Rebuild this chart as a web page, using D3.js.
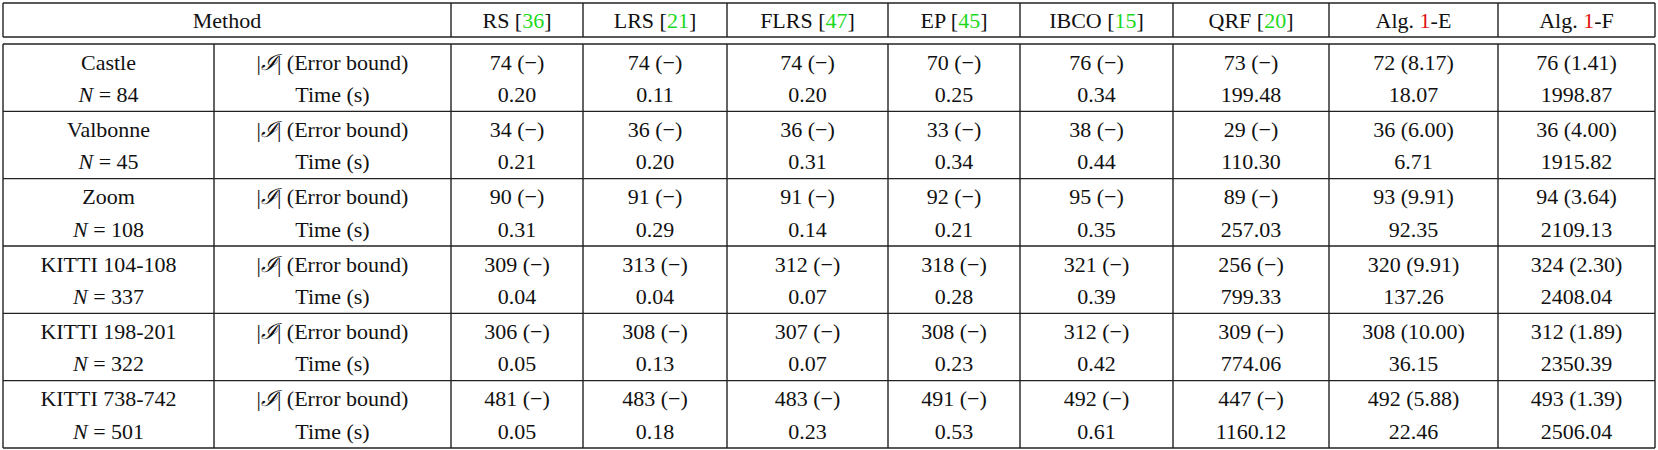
<!DOCTYPE html>
<html><head><meta charset="utf-8">
<script src="https://cdn.jsdelivr.net/npm/d3@7"></script>
<style>body{margin:0;background:#fff}svg{display:block}text{font-family:"Liberation Serif","DejaVu Serif",serif;font-size:22px;fill:#111}</style>
</head><body><svg width="1658" height="450"></svg>
<script>
// данные таблицы
const methods = [["RS", "36"], ["LRS", "21"], ["FLRS", "47"], ["EP", "45"], ["IBCO", "15"], ["QRF", "20"]];
const algs = ["Alg. 1-E", "Alg. 1-F"];
const datasets = ["Castle", "Valbonne", "Zoom", "KITTI 104-108", "KITTI 198-201", "KITTI 738-742"];
const sizes = [84, 45, 108, 337, 322, 501];
const counts = [
  ["74 (−)", "74 (−)", "74 (−)", "70 (−)", "76 (−)", "73 (−)", "72 (8.17)", "76 (1.41)"],
  ["34 (−)", "36 (−)", "36 (−)", "33 (−)", "38 (−)", "29 (−)", "36 (6.00)", "36 (4.00)"],
  ["90 (−)", "91 (−)", "91 (−)", "92 (−)", "95 (−)", "89 (−)", "93 (9.91)", "94 (3.64)"],
  ["309 (−)", "313 (−)", "312 (−)", "318 (−)", "321 (−)", "256 (−)", "320 (9.91)", "324 (2.30)"],
  ["306 (−)", "308 (−)", "307 (−)", "308 (−)", "312 (−)", "309 (−)", "308 (10.00)", "312 (1.89)"],
  ["481 (−)", "483 (−)", "483 (−)", "491 (−)", "492 (−)", "447 (−)", "492 (5.88)", "493 (1.39)"]
];
const times = [
  ["0.20", "0.11", "0.20", "0.25", "0.34", "199.48", "18.07", "1998.87"],
  ["0.21", "0.20", "0.31", "0.34", "0.44", "110.30", "6.71", "1915.82"],
  ["0.31", "0.29", "0.14", "0.21", "0.35", "257.03", "92.35", "2109.13"],
  ["0.04", "0.04", "0.07", "0.28", "0.39", "799.33", "137.26", "2408.04"],
  ["0.05", "0.13", "0.07", "0.23", "0.42", "774.06", "36.15", "2350.39"],
  ["0.05", "0.18", "0.23", "0.53", "0.61", "1160.12", "22.46", "2506.04"]
];

const svg = d3.select("svg");
const colX = [3, 214, 451, 583, 727, 888, 1020, 1173, 1329, 1498, 1655];
const headTop = 3, headBot = 37, bodyTop = 44, bodyBot = 448;
const rowY = d3.scaleLinear().domain([0, datasets.length]).range([bodyTop, bodyBot]);
const line = (x1, y1, x2, y2) => svg.append("line").attr("x1", x1).attr("y1", y1).attr("x2", x2).attr("y2", y2)
  .attr("stroke", "#222").attr("stroke-width", 1.4);
const mid = i => (colX[i] + colX[i + 1]) / 2;

// шапка
line(colX[0], headTop, colX[10], headTop);
line(colX[0], headBot, colX[10], headBot);
line(colX[0], bodyTop, colX[10], bodyTop);
[0, 2, 3, 4, 5, 6, 7, 8, 9, 10].forEach(i => line(colX[i], headTop, colX[i], headBot));
svg.append("text").attr("x", (colX[0] + colX[2]) / 2).attr("y", 28).attr("text-anchor", "middle").text("Method");
methods.forEach((m, i) => {
  const t = svg.append("text").attr("x", mid(i + 2)).attr("y", 28).attr("text-anchor", "middle");
  t.append("tspan").text(m[0] + " [");
  t.append("tspan").style("fill", "#1ed81e").text(m[1]);
  t.append("tspan").text("]");
});
algs.forEach((a, i) => {
  const t = svg.append("text").attr("x", mid(i + 8)).attr("y", 28).attr("text-anchor", "middle");
  t.append("tspan").text("Alg. ");
  t.append("tspan").style("fill", "#e01010").text("1");
  t.append("tspan").text(a.slice(6));
});

// тело
colX.forEach(x => line(x, bodyTop, x, bodyBot));
datasets.forEach((d, r) => {
  const y0 = rowY(r), h = rowY(r + 1) - y0;
  line(colX[0], rowY(r + 1), colX[10], rowY(r + 1));
  const y1 = y0 + h * 0.38, y2 = y0 + h * 0.86;
  svg.append("text").attr("x", mid(0)).attr("y", y1).attr("text-anchor", "middle").text(d);
  const n = svg.append("text").attr("x", mid(0)).attr("y", y2).attr("text-anchor", "middle");
  n.append("tspan").style("font-style", "italic").text("N");
  n.append("tspan").text(" = " + sizes[r]);
  const l = svg.append("text").attr("x", mid(1)).attr("y", y1).attr("text-anchor", "middle");
  l.append("tspan").text("|");
  l.append("tspan").style("font-style", "italic").text("ℐ");
  l.append("tspan").text("| (Error bound)");
  svg.append("text").attr("x", mid(1)).attr("y", y2).attr("text-anchor", "middle").text("Time (s)");
  counts[r].forEach((v, c) => svg.append("text").attr("x", mid(c + 2)).attr("y", y1).attr("text-anchor", "middle").text(v));
  times[r].forEach((v, c) => svg.append("text").attr("x", mid(c + 2)).attr("y", y2).attr("text-anchor", "middle").text(v));
});
</script></body></html>
